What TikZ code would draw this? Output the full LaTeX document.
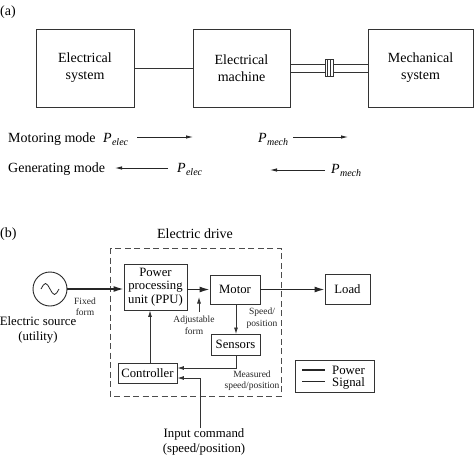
\documentclass[tikz,border=0pt]{standalone}
\usepackage{fontspec}
\setmainfont{Liberation Serif}
\usetikzlibrary{arrows.meta,calc}
\newcommand\Pwr[1]{\textit{P}\kern0.3pt\raisebox{-3pt}{\fontsize{10}{10}\selectfont\textit{#1}}}
\begin{document}
\begin{tikzpicture}[x=1pt,y=-1pt,
 box/.style={draw=black!80,line width=0.9pt,inner sep=0pt,align=center,font=\fontsize{14}{17}\selectfont},
 bbox/.style={draw=black!80,line width=0.9pt,inner sep=0pt,align=center,font=\fontsize{12.7}{13.5}\selectfont},
 lbl/.style={inner sep=0pt,align=center,font=\fontsize{9.5}{11.5}\selectfont,text=black!85},
 big/.style={font=\fontsize{14}{17}\selectfont,inner sep=0pt},
 mid/.style={font=\fontsize{12.8}{15}\selectfont,inner sep=0pt,align=center},
 pw/.style={line width=1.4pt,draw=black!85,-{Latex[length=10pt,width=6pt]}},
 sg/.style={line width=0.8pt,draw=black!80,-{Latex[length=6.5pt,width=4pt]}},
 ma/.style={line width=0.8pt,draw=black!85,-{Latex[length=7pt,width=3.5pt]}},
]
\useasboundingbox (0,0) rectangle (474,455);
% ---------- (a) ----------
\node[big,anchor=west] (la) at (0,12) {(a)};
\node[box,minimum width=98pt,minimum height=78pt] (es) at (85,68) {Electrical\\system};
\node[box,minimum width=97pt,minimum height=78pt] (em) at (241.5,68) {Electrical\\machine};
\node[box,minimum width=105pt,minimum height=78pt] (ms) at (420.5,68) {Mechanical\\system};
\draw[line width=0.9pt,black!80] (es) -- (em);
\draw[line width=0.9pt,black!80] ($(em.east)+(0,-4)$) -- ($(ms.west)+(0,-4)$);
\draw[line width=0.9pt,black!80] ($(em.east)+(0,4)$) -- ($(ms.west)+(0,4)$);
\node[draw=black!80,fill=white,line width=0.9pt,minimum width=8pt,minimum height=17pt,inner sep=0pt] (cp) at (329,68) {};
\draw[line width=0.6pt,black!80] ($(cp.north)+(-1.3,0)$) -- ($(cp.south)+(-1.3,0)$);
\draw[line width=0.6pt,black!80] ($(cp.north)+(1.3,0)$) -- ($(cp.south)+(1.3,0)$);

\node[big,anchor=base west] (mm) at (8,142) {Motoring mode};
\node[big,anchor=base west] (pe1) at (103,142) {\Pwr{elec}};
\node[big,anchor=base west] (pm1) at (258,142) {\Pwr{mech}};
\coordinate (a1s) at (137,137); \coordinate (a1e) at (193,137);
\coordinate (a2s) at (293,137); \coordinate (a2e) at (348,137);
\draw[ma] (a1s) -- (a1e);
\draw[ma] (a2s) -- (a2e);

\node[big,anchor=base west] (gm) at (8,172) {Generating mode};
\node[big,anchor=base west] (pe2) at (177,172) {\Pwr{elec}};
\node[big,anchor=base west] (pm2) at (331,173) {\Pwr{mech}};
\coordinate (b1s) at (168,168); \coordinate (b1e) at (115,168);
\coordinate (b2s) at (325,170); \coordinate (b2e) at (270,170);
\draw[ma] (b1s) -- (b1e);
\draw[ma] (b2s) -- (b2e);

% ---------- (b) ----------
\node[big,anchor=west] (lb) at (0,234) {(b)};
\node[big] (ed) at (195,234) {Electric drive};
\draw[dash pattern=on 6pt off 3.5pt,line width=0.9pt,black!70] (110,248) rectangle (281,396);

\node[draw=black!85,circle,minimum size=34pt,inner sep=0pt,line width=0.9pt] (src) at (50,289) {};
\draw[line width=0.8pt,black!85] (41,289) sin (45.5,283.5) cos (50,289) sin (54.5,294.5) cos (59,289);
\node[mid] (srcl) at (38,330) {Electric source\\(utility)};

\node[bbox,minimum width=63pt,minimum height=46pt] (ppu) at (155.5,287) {Power\\processing\\unit (PPU)};
\node[bbox,minimum width=50pt,minimum height=29pt] (mot) at (235,289.5) {Motor};
\node[bbox,minimum width=45pt,minimum height=30pt] (load) at (347.5,289) {Load};
\node[bbox,minimum width=49pt,minimum height=21pt] (sen) at (235.5,344.5) {Sensors};
\node[bbox,minimum width=59pt,minimum height=20pt] (ctl) at (147.5,373) {Controller};

\draw[pw] (src.east) -- (src.east -| ppu.west);
\node[lbl] (ff) at (85,306.5) {Fixed\\form};
\draw[pw] (ppu.east |- mot.west) -- (mot.west);
\draw[pw] (mot.east) -- (mot.east -| load.west);

\coordinate (adj) at (199,312);
\draw[sg] (adj) -- (199,297);
\node[lbl] (adjl) at (194,325) {Adjustable\\form};

\draw[sg] (236,304) -- (236,334);
\node[lbl] (spl) at (262,318) {Speed/\\position};

\draw[sg] (sen.south -| 236,0) -- (236,368) -- (ctl.east |- 0,368);
\node[lbl] (msl) at (252,380.5) {Measured\\speed/position};

\draw[sg] (ctl.north -| 150,0) -- (ppu.south -| 150,0);

\node[mid,anchor=north] (inp) at (204,428) {Input command\\(speed/position)};
\draw[sg] (inp.north -| 200,0) -- (200,378) -- (ctl.east |- 0,378);

\node[draw=black!80,line width=0.9pt,minimum width=79pt,minimum height=32pt,inner sep=0pt] (leg) at (334.5,376) {};
\draw[line width=1.4pt,black!85] (302,370) -- (325,370);
\draw[line width=0.8pt,black!85] (302,381) -- (325,381);
\node[mid,anchor=west] (lp) at (332,370) {Power};
\node[mid,anchor=west] (ls) at (332,383) {Signal};
\end{tikzpicture}
\end{document}
